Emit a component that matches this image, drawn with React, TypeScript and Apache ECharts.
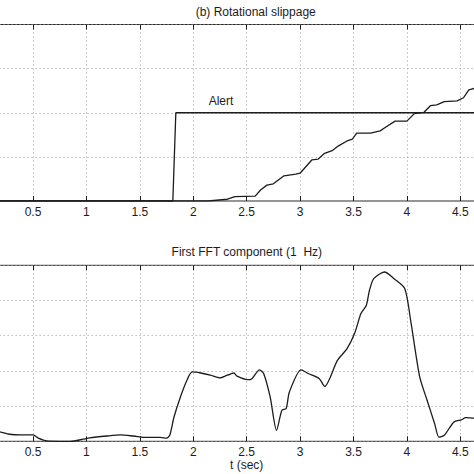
import React, { useEffect, useRef } from 'react';
import * as echarts from 'echarts';

// time axis ticks (sec)
const tMin = 0;
const tMax = 5;
const tStep = 0.5;

// (b) rotational slippage: [t, value]
const alertLevel: number[][] = [
    [0, 0], [1.809, 0], [1.837, 2], [5, 2],
];
const slippage: number[][] = [
    [0, 0], [2.14, 0], [2.32, 0.04], [2.39, 0.1], [2.58, 0.11], [2.63, 0.25],
    [2.69, 0.36], [2.75, 0.39], [2.85, 0.57], [2.96, 0.61], [3.0, 0.63],
    [3.11, 0.93], [3.17, 0.95], [3.23, 1.08], [3.3, 1.14], [3.36, 1.25],
    [3.44, 1.36], [3.49, 1.4], [3.53, 1.54], [3.66, 1.54], [3.75, 1.59],
    [3.8, 1.67], [3.89, 1.81], [4.0, 1.81], [4.07, 1.98], [4.16, 2.01],
    [4.22, 2.16], [4.28, 2.18], [4.35, 2.25], [4.47, 2.27], [4.53, 2.34],
    [4.58, 2.52], [4.63, 2.55], [4.7, 2.58],
];

// first FFT component (1 Hz): [t, value]
const fft: number[][] = [
    [0.12, 0.3], [0.19, 0.27], [0.28, 0.2], [0.38, 0.18], [0.5, 0.18], [0.55, 0.09],
    [0.63, 0.01], [0.75, 0.0], [0.85, 0.0], [0.97, 0.06], [1.03, 0.1],
    [1.19, 0.15], [1.32, 0.18], [1.44, 0.15], [1.57, 0.11], [1.69, 0.11],
    [1.75, 0.09], [1.78, 0.17], [1.82, 0.69], [1.88, 1.26], [1.94, 1.73],
    [1.99, 1.97], [2.07, 1.94], [2.16, 1.88], [2.25, 1.8], [2.32, 1.88],
    [2.38, 1.94], [2.41, 1.85], [2.51, 1.75], [2.55, 1.78], [2.62, 2.03],
    [2.66, 1.92], [2.72, 1.26], [2.78, 0.31], [2.83, 0.88], [2.87, 0.93],
    [2.9, 1.4], [3.01, 2.03], [3.08, 1.92], [3.18, 1.78], [3.23, 1.56],
    [3.35, 2.3], [3.44, 2.63], [3.51, 3.06], [3.57, 3.63], [3.62, 3.86],
    [3.65, 4.29], [3.69, 4.62], [3.79, 4.81], [3.88, 4.62], [3.98, 4.34],
    [4.04, 3.34], [4.12, 1.83], [4.19, 1.16], [4.26, 0.5], [4.3, 0.12],
    [4.35, 0.17], [4.44, 0.55], [4.51, 0.61], [4.55, 0.67], [4.63, 0.66],
    [4.7, 0.66],
];

const topTitle = '(b) Rotational slippage';
const bottomTitle = 'First FFT component (1  Hz)';
const xName = 't (sec)';

const font = '"Liberation Sans", Arial, sans-serif';
const ink = '#1c1c1c';
const gridDots = { color: '#9a9a9a', width: 1, type: [1, 3] as number[] };

function timeAxis(gridIndex: number, bottom: boolean, name?: string) {
    return {
        type: 'value' as const,
        gridIndex,
        position: bottom ? 'bottom' : 'top',
        min: tMin,
        max: tMax,
        interval: tStep,
        name,
        nameLocation: 'middle' as const,
        nameGap: 18,
        nameTextStyle: { color: ink, fontSize: 12, fontFamily: font },
        axisLine: { show: false },
        axisTick: { show: true, inside: true, length: 5, lineStyle: { color: ink } },
        axisLabel: {
            show: bottom,
            margin: 5,
            color: ink,
            fontSize: 12,
            fontFamily: font,
            showMinLabel: false,
            showMaxLabel: false,
        },
        splitLine: { show: bottom, lineStyle: gridDots },
    };
}

function valueAxis(gridIndex: number, max: number) {
    return {
        type: 'value' as const,
        gridIndex,
        min: 0,
        max,
        interval: 1,
        axisLine: { show: false },
        axisTick: { show: false },
        axisLabel: { show: false },
        splitLine: { show: true, lineStyle: gridDots },
    };
}

export default function App() {
    const chartRef = useRef<HTMLDivElement>(null);

    useEffect(() => {
        if (!chartRef.current) return;
        const chart = echarts.init(chartRef.current, undefined, { renderer: 'svg' });

        const frame = {
            show: true,
            borderColor: '#2a2a2a',
            borderWidth: 1,
            backgroundColor: '#fff',
            left: -20.4,
            right: -39.7,
            outerBoundsMode: 'none',
        };
        const line = {
            type: 'line' as const,
            showSymbol: false,
            symbol: 'none',
            lineStyle: { color: ink, width: 1.3 },
            silent: true,
        };

        chart.setOption({
            animation: false,
            backgroundColor: '#fff',
            textStyle: { fontFamily: font },
            grid: [
                { ...frame, top: 24.5, height: 176.5 },
                { ...frame, top: 265.3, height: 176 },
            ],
            xAxis: [
                timeAxis(0, true),
                timeAxis(0, false),
                timeAxis(1, true, xName),
                timeAxis(1, false),
            ],
            yAxis: [valueAxis(0, 4), valueAxis(1, 5)],
            graphic: [
                {
                    type: 'text',
                    x: 255.7,
                    y: 11.7,
                    style: {
                        text: topTitle,
                        fill: ink,
                        font: `12px ${font}`,
                        textAlign: 'center',
                        textVerticalAlign: 'middle',
                    },
                },
                {
                    type: 'text',
                    x: 246.8,
                    y: 252,
                    style: {
                        text: bottomTitle,
                        fill: ink,
                        font: `12px ${font}`,
                        textAlign: 'center',
                        textVerticalAlign: 'middle',
                    },
                },
            ],
            series: [
                {
                    ...line,
                    name: 'Alert',
                    xAxisIndex: 0,
                    yAxisIndex: 0,
                    data: alertLevel,
                    markPoint: {
                        symbol: 'circle',
                        symbolSize: 0,
                        silent: true,
                        data: [
                            {
                                coord: [2.26, 2],
                                label: {
                                    show: true,
                                    formatter: 'Alert',
                                    position: 'top',
                                    distance: 6,
                                    color: ink,
                                    fontSize: 12,
                                    fontFamily: font,
                                },
                            },
                        ],
                    },
                },
                { ...line, name: 'Slippage', xAxisIndex: 0, yAxisIndex: 0, data: slippage },
                {
                    ...line,
                    name: 'FFT 1 Hz',
                    xAxisIndex: 2,
                    yAxisIndex: 1,
                    smooth: 0.25,
                    data: fft,
                },
            ],
        });

        return () => {
            chart.dispose();
        };
    }, []);

    return (
        <div
            ref={chartRef}
            style={{ position: 'absolute', left: 0, top: 0, width: 474, height: 474 }}
        />
    );
}
